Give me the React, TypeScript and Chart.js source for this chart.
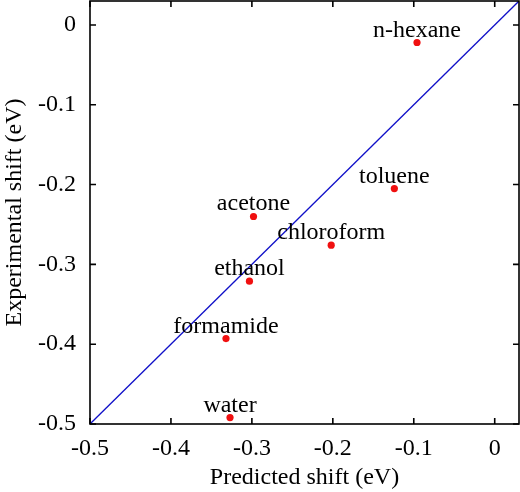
import React, { useEffect, useRef } from "react";
import { Chart, registerables } from "chart.js";

Chart.register(...registerables);

const solvents = ["n-hexane", "toluene", "chloroform", "acetone", "ethanol", "formamide", "water"];
const predicted = [-0.096, -0.124, -0.202, -0.298, -0.303, -0.332, -0.327];
const experimental = [-0.022, -0.205, -0.276, -0.24, -0.321, -0.393, -0.492];
const xTicks = [-0.5, -0.4, -0.3, -0.2, -0.1, 0];
const yTicks = [-0.5, -0.4, -0.3, -0.2, -0.1, 0];
const diagonal = [-0.5, 0.03];

const FONT = "'Liberation Serif', serif";
const FS = 24;

const framePlugin = {
  id: "frame",
  afterDraw(chart: any) {
    const { ctx, chartArea: a, scales } = chart;
    ctx.save();
    ctx.strokeStyle = "#000";
    ctx.lineWidth = 1.6;
    ctx.strokeRect(a.left, a.top, a.right - a.left, a.bottom - a.top);
    const len = 6;
    ctx.beginPath();
    xTicks.forEach((v) => {
      const px = scales.x.getPixelForValue(v);
      ctx.moveTo(px, a.bottom);
      ctx.lineTo(px, a.bottom - len);
      ctx.moveTo(px, a.top);
      ctx.lineTo(px, a.top + len);
    });
    yTicks.forEach((v) => {
      const py = scales.y.getPixelForValue(v);
      ctx.moveTo(a.left, py);
      ctx.lineTo(a.left + len, py);
      ctx.moveTo(a.right, py);
      ctx.lineTo(a.right - len, py);
    });
    ctx.stroke();
    ctx.restore();
  },
};

const labelPlugin = {
  id: "pointLabels",
  afterDatasetsDraw(chart: any) {
    const { ctx } = chart;
    const meta = chart.getDatasetMeta(1);
    ctx.save();
    ctx.fillStyle = "#000";
    ctx.font = `${FS}px ${FONT}`;
    ctx.textAlign = "center";
    ctx.textBaseline = "alphabetic";
    meta.data.forEach((el: any, i: number) => {
      ctx.fillText(solvents[i], el.x, el.y - 6);
    });
    ctx.restore();
  },
};

const zeroPad = (s: any) => {
  s.paddingTop = 0;
  s.paddingBottom = 0;
  s.paddingLeft = 0;
  s.paddingRight = 0;
};

export default function App() {
  const ref = useRef<HTMLCanvasElement>(null);
  useEffect(() => {
    document.body.style.margin = "0";
    const chart = new Chart(ref.current!, {
      type: "scatter",
      data: {
        datasets: [
          {
            data: diagonal.map((v) => ({ x: v, y: v })),
            showLine: true,
            borderColor: "#1010c8",
            borderWidth: 1.3,
            pointRadius: 0,
            clip: 0,
          },
          {
            data: predicted.map((p, i) => ({ x: p, y: experimental[i] })),
            backgroundColor: "#f01010",
            borderWidth: 0,
            pointRadius: 3.6,
          },
        ],
      },
      options: {
        animation: false,
        responsive: true,
        maintainAspectRatio: false,
        layout: { autoPadding: false, padding: { top: 1, right: 1, left: 0, bottom: 0 } },
        plugins: { legend: { display: false }, tooltip: { enabled: false } },
        scales: {
          x: {
            type: "linear",
            min: -0.5,
            max: 0.03,
            afterBuildTicks: (s: any) => {
              s.ticks = xTicks.map((v) => ({ value: v }));
            },
            afterFit: (s: any) => {
              s.height = 68;
              zeroPad(s);
            },
            grid: { display: false, drawTicks: false },
            border: { display: false },
            ticks: {
              color: "#000",
              padding: 10,
              maxRotation: 0,
              font: { family: FONT, size: FS },
              callback: (v: any) => String(Math.round(Number(v) * 10) / 10),
            },
            title: {
              display: true,
              text: "Predicted shift (eV)",
              color: "#000",
              font: { family: FONT, size: FS },
              padding: { top: 3, bottom: 0 },
            },
          },
          y: {
            type: "linear",
            min: -0.5,
            max: 0.03,
            afterBuildTicks: (s: any) => {
              s.ticks = yTicks.map((v) => ({ value: v }));
            },
            afterFit: (s: any) => {
              s.width = 90;
              zeroPad(s);
            },
            grid: { display: false, drawTicks: false },
            border: { display: false },
            ticks: {
              color: "#000",
              padding: 14,
              font: { family: FONT, size: FS },
              callback: (v: any) => String(Math.round(Number(v) * 10) / 10),
            },
            title: {
              display: true,
              text: "Experimental shift (eV)",
              color: "#000",
              font: { family: FONT, size: FS },
              padding: { top: 0, bottom: 2 },
            },
          },
        },
      },
      plugins: [framePlugin, labelPlugin],
    });
    return () => chart.destroy();
  }, []);
  return (
    <div style={{ width: 520, height: 492, position: "relative" }}>
      <canvas ref={ref} />
    </div>
  );
}
